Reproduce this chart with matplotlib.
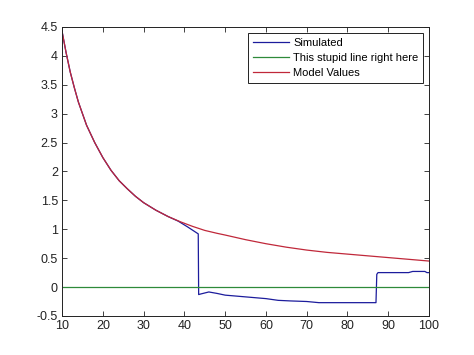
import numpy as np
import matplotlib
matplotlib.use('Agg')
import matplotlib.pyplot as plt
from matplotlib.ticker import FormatStrFormatter

# model curve
model_x = [10, 11, 12, 13, 14, 15, 16, 18, 20, 22, 24, 26, 28, 30, 33, 36, 39,
           42, 45, 48, 50, 55, 60, 65, 70, 75, 80, 85, 90, 95, 100]
model_y = [4.42, 4.05, 3.72, 3.45, 3.2, 3.0, 2.8, 2.5, 2.24, 2.02, 1.84, 1.7,
           1.57, 1.46, 1.33, 1.22, 1.13, 1.05, 0.98, 0.93, 0.9, 0.82, 0.75,
           0.69, 0.64, 0.6, 0.57, 0.54, 0.51, 0.48, 0.45]

# simulated curve
sim_x = [10, 11, 12, 13, 14, 15, 16, 18, 20, 22, 24, 26, 28, 30, 33, 36, 38.5,
         40.8, 43.4, 43.5, 44, 46, 48, 50, 55, 60, 63, 66, 70, 73, 80, 87.0,
         87.2, 87.5, 90, 95, 96, 99, 99.5, 100]
sim_y = [4.42, 4.05, 3.72, 3.45, 3.2, 3.0, 2.8, 2.5, 2.24, 2.02, 1.84, 1.7,
         1.57, 1.46, 1.33, 1.22, 1.14, 1.04, 0.92, -0.13, -0.12, -0.085,
         -0.11, -0.14, -0.17, -0.2, -0.23, -0.24, -0.25, -0.27, -0.27, -0.27,
         0.22, 0.25, 0.25, 0.25, 0.27, 0.27, 0.25, 0.25]

# the flat line
flat_x = [10, 100]
flat_y = [0, 0]

plt.rcParams['font.family'] = ['Liberation Sans', 'DejaVu Sans']

fig = plt.figure(figsize=(4.74, 3.55), dpi=100)
ax = fig.add_axes([0.131, 0.110, 0.774, 0.814])

ax.plot(sim_x, sim_y, color='#1c1c9c', lw=0.9, label='Simulated')
ax.plot(flat_x, flat_y, color='#2e8a3a', lw=0.9, label='This stupid line right here')
ax.plot(model_x, model_y, color='#c0283a', lw=0.9, label='Model Values')

ax.set_xlim(10, 100)
ax.set_ylim(-0.5, 4.5)
ax.set_xticks(np.arange(10, 101, 10))
ax.set_yticks(np.arange(-0.5, 4.51, 0.5))
ax.yaxis.set_major_formatter(FormatStrFormatter('%g'))
ax.tick_params(direction='in', length=3.5, width=0.6, top=True, right=True,
               labelsize=9, colors='#222222', pad=3)
for s in ax.spines.values():
    s.set_linewidth(0.7)
    s.set_color('#222222')

leg = ax.legend(loc='upper right', fontsize=8, fancybox=False, framealpha=1,
                edgecolor='#222222', handlelength=3.2, handletextpad=0.4,
                borderaxespad=0.5, labelspacing=0.45, borderpad=0.45)
leg.get_frame().set_linewidth(0.7)

fig.savefig('out.png', dpi=100)
